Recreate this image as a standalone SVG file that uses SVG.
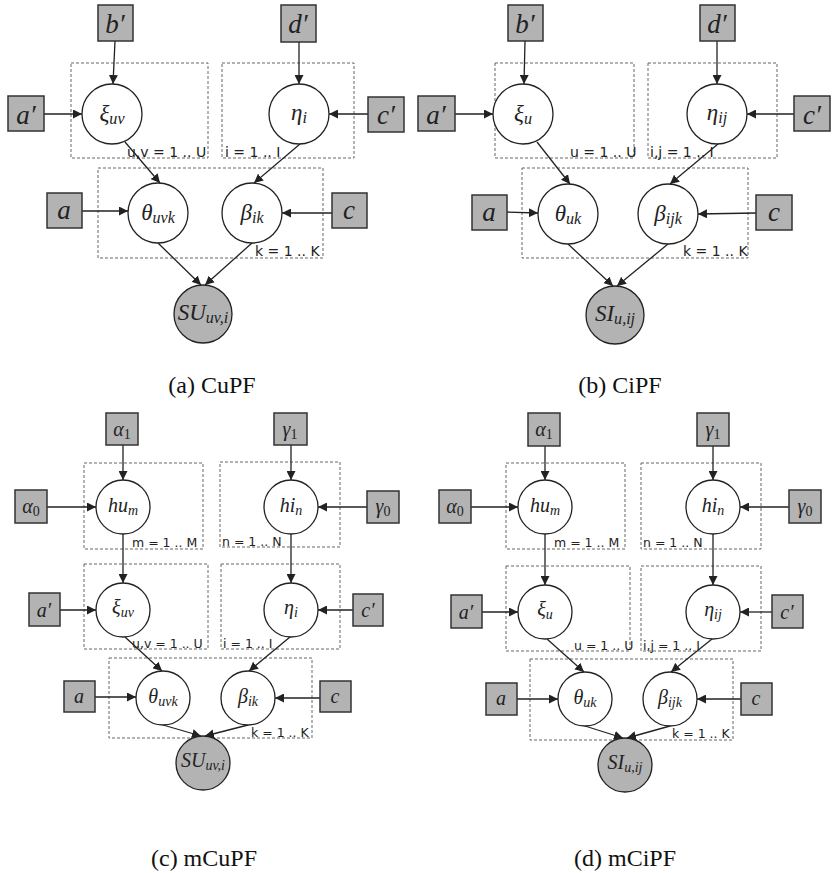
<svg xmlns="http://www.w3.org/2000/svg" width="835" height="873" viewBox="0 0 835 873">
<style>
.bx{fill:#b3b3b3;stroke:#333;stroke-width:1.5}
.c{fill:#fff;stroke:#222;stroke-width:1.3}
.o{fill:#b3b3b3;stroke:#222;stroke-width:1.3}
.pl{fill:none;stroke:#666;stroke-width:1;stroke-dasharray:3,2}
.e{stroke:#222;stroke-width:1.3;fill:none;marker-end:url(#ar)}
.m{font-family:"Liberation Serif",serif;font-style:italic;text-anchor:middle;fill:#222}
.L{font-size:27px}.N{font-size:23px}.S{font-size:20px}
.p{font-family:"DejaVu Sans",sans-serif;font-size:14px;fill:#222}
.q{font-size:12.5px}
.cap{font-family:"Liberation Serif",serif;font-size:24px;text-anchor:middle;fill:#111}
.sb{font-size:70%}
</style>
<defs><marker id="ar" viewBox="0 0 10 10" refX="10" refY="5" markerWidth="9" markerHeight="9" markerUnits="userSpaceOnUse" orient="auto"><path d="M0,0L10,5L0,10z" fill="#222"/></marker></defs>

<g id="plates">
<rect class="pl" x="71" y="63" width="137" height="95"/><rect class="pl" x="222" y="63" width="132" height="95"/><rect class="pl" x="98" y="168" width="225" height="90"/>
<rect class="pl" x="495" y="63" width="139" height="95"/><rect class="pl" x="648" y="63" width="129" height="95"/><rect class="pl" x="522" y="168" width="226" height="90"/>
<rect class="pl" x="84" y="463" width="119" height="86"/><rect class="pl" x="220" y="462" width="120" height="85"/><rect class="pl" x="84" y="564" width="124" height="85"/><rect class="pl" x="221" y="564" width="119" height="85"/><rect class="pl" x="109" y="658" width="203" height="80"/>
<rect class="pl" x="506" y="463" width="119" height="86"/><rect class="pl" x="641" y="463" width="120" height="86"/><rect class="pl" x="506" y="566" width="124" height="85"/><rect class="pl" x="641" y="566" width="120" height="85"/><rect class="pl" x="530" y="659" width="203" height="81"/>
<text class="p" x="127" y="157">u,v = 1 .. U</text><text class="p" x="225" y="157">i = 1 .. I</text><text class="p" x="255" y="256">k = 1 .. K</text>
<text class="p" x="570" y="157">u = 1 .. U</text><text class="p" x="650" y="157">i,j = 1 .. I</text><text class="p" x="683" y="256">k = 1 .. K</text>
<text class="p q" x="132" y="547">m = 1 .. M</text><text class="p q" x="222" y="546">n = 1 .. N</text><text class="p q" x="132" y="648">u,v = 1 .. U</text><text class="p q" x="223" y="648">i = 1 .. I</text><text class="p q" x="251" y="737">k = 1 .. K</text>
<text class="p q" x="554" y="547">m = 1 .. M</text><text class="p q" x="643" y="547">n = 1 .. N</text><text class="p q" x="574" y="650">u = 1 .. U</text><text class="p q" x="643" y="650">i,j = 1 .. I</text><text class="p q" x="672" y="738">k = 1 .. K</text>
</g>

<g id="connectors">
<line class="e" x1="115" y1="41" x2="113" y2="84"/><line class="e" x1="299" y1="42" x2="299" y2="84"/><line class="e" x1="44" y1="114" x2="82" y2="114"/><line class="e" x1="368" y1="114" x2="329" y2="114"/>
<line class="e" x1="125" y1="142" x2="160" y2="183"/><line class="e" x1="300" y1="144" x2="254" y2="183"/><line class="e" x1="82" y1="211" x2="128" y2="211"/><line class="e" x1="332" y1="213" x2="282" y2="213"/>
<line class="e" x1="158" y1="243" x2="201" y2="285"/><line class="e" x1="252" y1="243" x2="205" y2="285"/>

<line class="e" x1="525" y1="41" x2="524" y2="84"/><line class="e" x1="717" y1="41" x2="717" y2="84"/><line class="e" x1="455" y1="114" x2="493" y2="114"/><line class="e" x1="794" y1="114" x2="747" y2="114"/>
<line class="e" x1="537" y1="142" x2="570" y2="184"/><line class="e" x1="718" y1="144" x2="670" y2="184"/><line class="e" x1="507" y1="212" x2="538" y2="213"/><line class="e" x1="756" y1="213" x2="698" y2="214"/>
<line class="e" x1="568" y1="244" x2="613" y2="286"/><line class="e" x1="668" y1="244" x2="617" y2="286"/>

<line class="e" x1="123" y1="445" x2="123" y2="480"/><line class="e" x1="291" y1="445" x2="291" y2="480"/><line class="e" x1="47" y1="507" x2="96" y2="507"/><line class="e" x1="367" y1="507" x2="318" y2="507"/>
<line class="e" x1="123" y1="534" x2="123" y2="583"/><line class="e" x1="291" y1="534" x2="291" y2="583"/><line class="e" x1="60" y1="610" x2="96" y2="610"/><line class="e" x1="353" y1="610" x2="318" y2="610"/>
<line class="e" x1="125" y1="637" x2="162" y2="671"/><line class="e" x1="290" y1="637" x2="249" y2="671"/><line class="e" x1="95" y1="697" x2="136" y2="697"/><line class="e" x1="320" y1="698" x2="275" y2="698"/>
<line class="e" x1="163" y1="725" x2="201" y2="736"/><line class="e" x1="248" y1="725" x2="205" y2="736"/>

<line class="e" x1="545" y1="446" x2="545" y2="480"/><line class="e" x1="713" y1="446" x2="713" y2="480"/><line class="e" x1="471" y1="507" x2="518" y2="507"/><line class="e" x1="789" y1="507" x2="740" y2="507"/>
<line class="e" x1="545" y1="534" x2="545" y2="585"/><line class="e" x1="713" y1="534" x2="713" y2="585"/><line class="e" x1="482" y1="612" x2="518" y2="612"/><line class="e" x1="772" y1="612" x2="740" y2="612"/>
<line class="e" x1="547" y1="639" x2="584" y2="672"/><line class="e" x1="712" y1="639" x2="671" y2="672"/><line class="e" x1="517" y1="699" x2="558" y2="699"/><line class="e" x1="741" y1="699" x2="697" y2="699"/>
<line class="e" x1="585" y1="726" x2="623" y2="738"/><line class="e" x1="670" y1="726" x2="627" y2="738"/>
</g>

<g id="a-bp"><rect class="bx" x="98" y="5" width="35" height="36"/><text class="m L" x="115" y="33">b′</text></g>
<g id="a-dp"><rect class="bx" x="281" y="5" width="35" height="37"/><text class="m L" x="298" y="33">d′</text></g>
<g id="a-ap"><rect class="bx" x="8" y="96" width="36" height="35"/><text class="m L" x="26" y="124">a′</text></g>
<g id="a-cp"><rect class="bx" x="368" y="97" width="36" height="35"/><text class="m L" x="386" y="124">c′</text></g>
<g id="a-xi"><circle class="c" cx="112" cy="114" r="30"/><text class="m N" x="112" y="121">ξ<tspan class="sb" dy="3">uv</tspan></text></g>
<g id="a-eta"><circle class="c" cx="299" cy="114" r="30"/><text class="m N" x="299" y="120">η<tspan class="sb" dy="3">i</tspan></text></g>
<g id="a-a"><rect class="bx" x="47" y="193" width="35" height="35"/><text class="m L" x="64" y="219">a</text></g>
<g id="a-c"><rect class="bx" x="332" y="193" width="35" height="35"/><text class="m L" x="349" y="219">c</text></g>
<g id="a-theta"><circle class="c" cx="158" cy="213" r="30"/><text class="m N" x="158" y="220">θ<tspan class="sb" dy="3">uvk</tspan></text></g>
<g id="a-beta"><circle class="c" cx="252" cy="213" r="30"/><text class="m N" x="252" y="220">β<tspan class="sb" dy="3">ik</tspan></text></g>
<g id="a-su"><circle class="o" cx="203" cy="314" r="29"/><text class="m N" x="203" y="320">SU<tspan class="sb" dy="3">uv,i</tspan></text></g>
<text class="cap" x="212" y="393">(a) CuPF</text>

<g id="b-bp"><rect class="bx" x="508" y="5" width="35" height="36"/><text class="m L" x="525" y="33">b′</text></g>
<g id="b-dp"><rect class="bx" x="700" y="5" width="35" height="36"/><text class="m L" x="717" y="33">d′</text></g>
<g id="b-ap"><rect class="bx" x="418" y="96" width="37" height="35"/><text class="m L" x="436" y="124">a′</text></g>
<g id="b-cp"><rect class="bx" x="794" y="96" width="36" height="35"/><text class="m L" x="812" y="124">c′</text></g>
<g id="b-xi"><circle class="c" cx="523" cy="114" r="30"/><text class="m N" x="523" y="121">ξ<tspan class="sb" dy="3">u</tspan></text></g>
<g id="b-eta"><circle class="c" cx="717" cy="114" r="30"/><text class="m N" x="717" y="120">η<tspan class="sb" dy="3">ij</tspan></text></g>
<g id="b-a"><rect class="bx" x="472" y="195" width="35" height="35"/><text class="m L" x="489" y="221">a</text></g>
<g id="b-c"><rect class="bx" x="756" y="195" width="36" height="35"/><text class="m L" x="774" y="221">c</text></g>
<g id="b-theta"><circle class="c" cx="568" cy="214" r="30"/><text class="m N" x="568" y="221">θ<tspan class="sb" dy="3">uk</tspan></text></g>
<g id="b-beta"><circle class="c" cx="668" cy="214" r="30"/><text class="m N" x="668" y="221">β<tspan class="sb" dy="3">ijk</tspan></text></g>
<g id="b-si"><circle class="o" cx="615" cy="315" r="29"/><text class="m N" x="615" y="321">SI<tspan class="sb" dy="3">u,ij</tspan></text></g>
<text class="cap" x="620" y="393">(b) CiPF</text>

<g id="c-a1"><rect class="bx" x="106" y="413" width="32" height="32"/><text class="m S" x="122" y="436">α<tspan class="sb" dy="3" font-style="normal">1</tspan></text></g>
<g id="c-g1"><rect class="bx" x="274" y="413" width="33" height="32"/><text class="m S" x="290" y="436">γ<tspan class="sb" dy="3" font-style="normal">1</tspan></text></g>
<g id="c-a0"><rect class="bx" x="15" y="490" width="32" height="33"/><text class="m S" x="31" y="513">α<tspan class="sb" dy="3" font-style="normal">0</tspan></text></g>
<g id="c-g0"><rect class="bx" x="367" y="491" width="32" height="32"/><text class="m S" x="383" y="513">γ<tspan class="sb" dy="3" font-style="normal">0</tspan></text></g>
<g id="c-hu"><circle class="c" cx="123" cy="507" r="27"/><text class="m S" x="123" y="512">hu<tspan class="sb" dy="3">m</tspan></text></g>
<g id="c-hi"><circle class="c" cx="291" cy="507" r="27"/><text class="m S" x="291" y="512">hi<tspan class="sb" dy="3">n</tspan></text></g>
<g id="c-ap"><rect class="bx" x="29" y="593" width="31" height="33"/><text class="m S" x="44" y="617">a′</text></g>
<g id="c-cp"><rect class="bx" x="353" y="594" width="30" height="32"/><text class="m S" x="368" y="617">c′</text></g>
<g id="c-xi"><circle class="c" cx="123" cy="610" r="27"/><text class="m S" x="123" y="614">ξ<tspan class="sb" dy="3">uv</tspan></text></g>
<g id="c-eta"><circle class="c" cx="291" cy="610" r="27"/><text class="m S" x="291" y="614">η<tspan class="sb" dy="3">i</tspan></text></g>
<g id="c-a"><rect class="bx" x="64" y="681" width="31" height="31"/><text class="m S" x="79" y="703">a</text></g>
<g id="c-c"><rect class="bx" x="320" y="681" width="31" height="31"/><text class="m S" x="335" y="703">c</text></g>
<g id="c-theta"><circle class="c" cx="163" cy="698" r="27"/><text class="m S" x="163" y="703">θ<tspan class="sb" dy="3">uvk</tspan></text></g>
<g id="c-beta"><circle class="c" cx="248" cy="698" r="27"/><text class="m S" x="248" y="703">β<tspan class="sb" dy="3">ik</tspan></text></g>
<g id="c-su"><circle class="o" cx="203" cy="763" r="27"/><text class="m S" x="203" y="767">SU<tspan class="sb" dy="3">uv,i</tspan></text></g>
<text class="cap" x="204" y="866">(c) mCuPF</text>

<g id="d-a1"><rect class="bx" x="528" y="413" width="32" height="33"/><text class="m S" x="544" y="436">α<tspan class="sb" dy="3" font-style="normal">1</tspan></text></g>
<g id="d-g1"><rect class="bx" x="697" y="413" width="32" height="33"/><text class="m S" x="713" y="436">γ<tspan class="sb" dy="3" font-style="normal">1</tspan></text></g>
<g id="d-a0"><rect class="bx" x="439" y="490" width="32" height="33"/><text class="m S" x="455" y="513">α<tspan class="sb" dy="3" font-style="normal">0</tspan></text></g>
<g id="d-g0"><rect class="bx" x="789" y="490" width="32" height="33"/><text class="m S" x="805" y="513">γ<tspan class="sb" dy="3" font-style="normal">0</tspan></text></g>
<g id="d-hu"><circle class="c" cx="545" cy="507" r="27"/><text class="m S" x="545" y="512">hu<tspan class="sb" dy="3">m</tspan></text></g>
<g id="d-hi"><circle class="c" cx="713" cy="507" r="27"/><text class="m S" x="713" y="512">hi<tspan class="sb" dy="3">n</tspan></text></g>
<g id="d-ap"><rect class="bx" x="451" y="595" width="31" height="33"/><text class="m S" x="466" y="619">a′</text></g>
<g id="d-cp"><rect class="bx" x="772" y="595" width="31" height="33"/><text class="m S" x="787" y="619">c′</text></g>
<g id="d-xi"><circle class="c" cx="545" cy="612" r="27"/><text class="m S" x="545" y="616">ξ<tspan class="sb" dy="3">u</tspan></text></g>
<g id="d-eta"><circle class="c" cx="713" cy="612" r="27"/><text class="m S" x="713" y="616">η<tspan class="sb" dy="3">ij</tspan></text></g>
<g id="d-a"><rect class="bx" x="486" y="683" width="31" height="32"/><text class="m S" x="501" y="705">a</text></g>
<g id="d-c"><rect class="bx" x="741" y="683" width="31" height="32"/><text class="m S" x="756" y="705">c</text></g>
<g id="d-theta"><circle class="c" cx="585" cy="699" r="27"/><text class="m S" x="585" y="704">θ<tspan class="sb" dy="3">uk</tspan></text></g>
<g id="d-beta"><circle class="c" cx="670" cy="699" r="27"/><text class="m S" x="670" y="704">β<tspan class="sb" dy="3">ijk</tspan></text></g>
<g id="d-si"><circle class="o" cx="625" cy="765" r="27"/><text class="m S" x="625" y="769">SI<tspan class="sb" dy="3">u,ij</tspan></text></g>
<text class="cap" x="625" y="866">(d) mCiPF</text>
</svg>
